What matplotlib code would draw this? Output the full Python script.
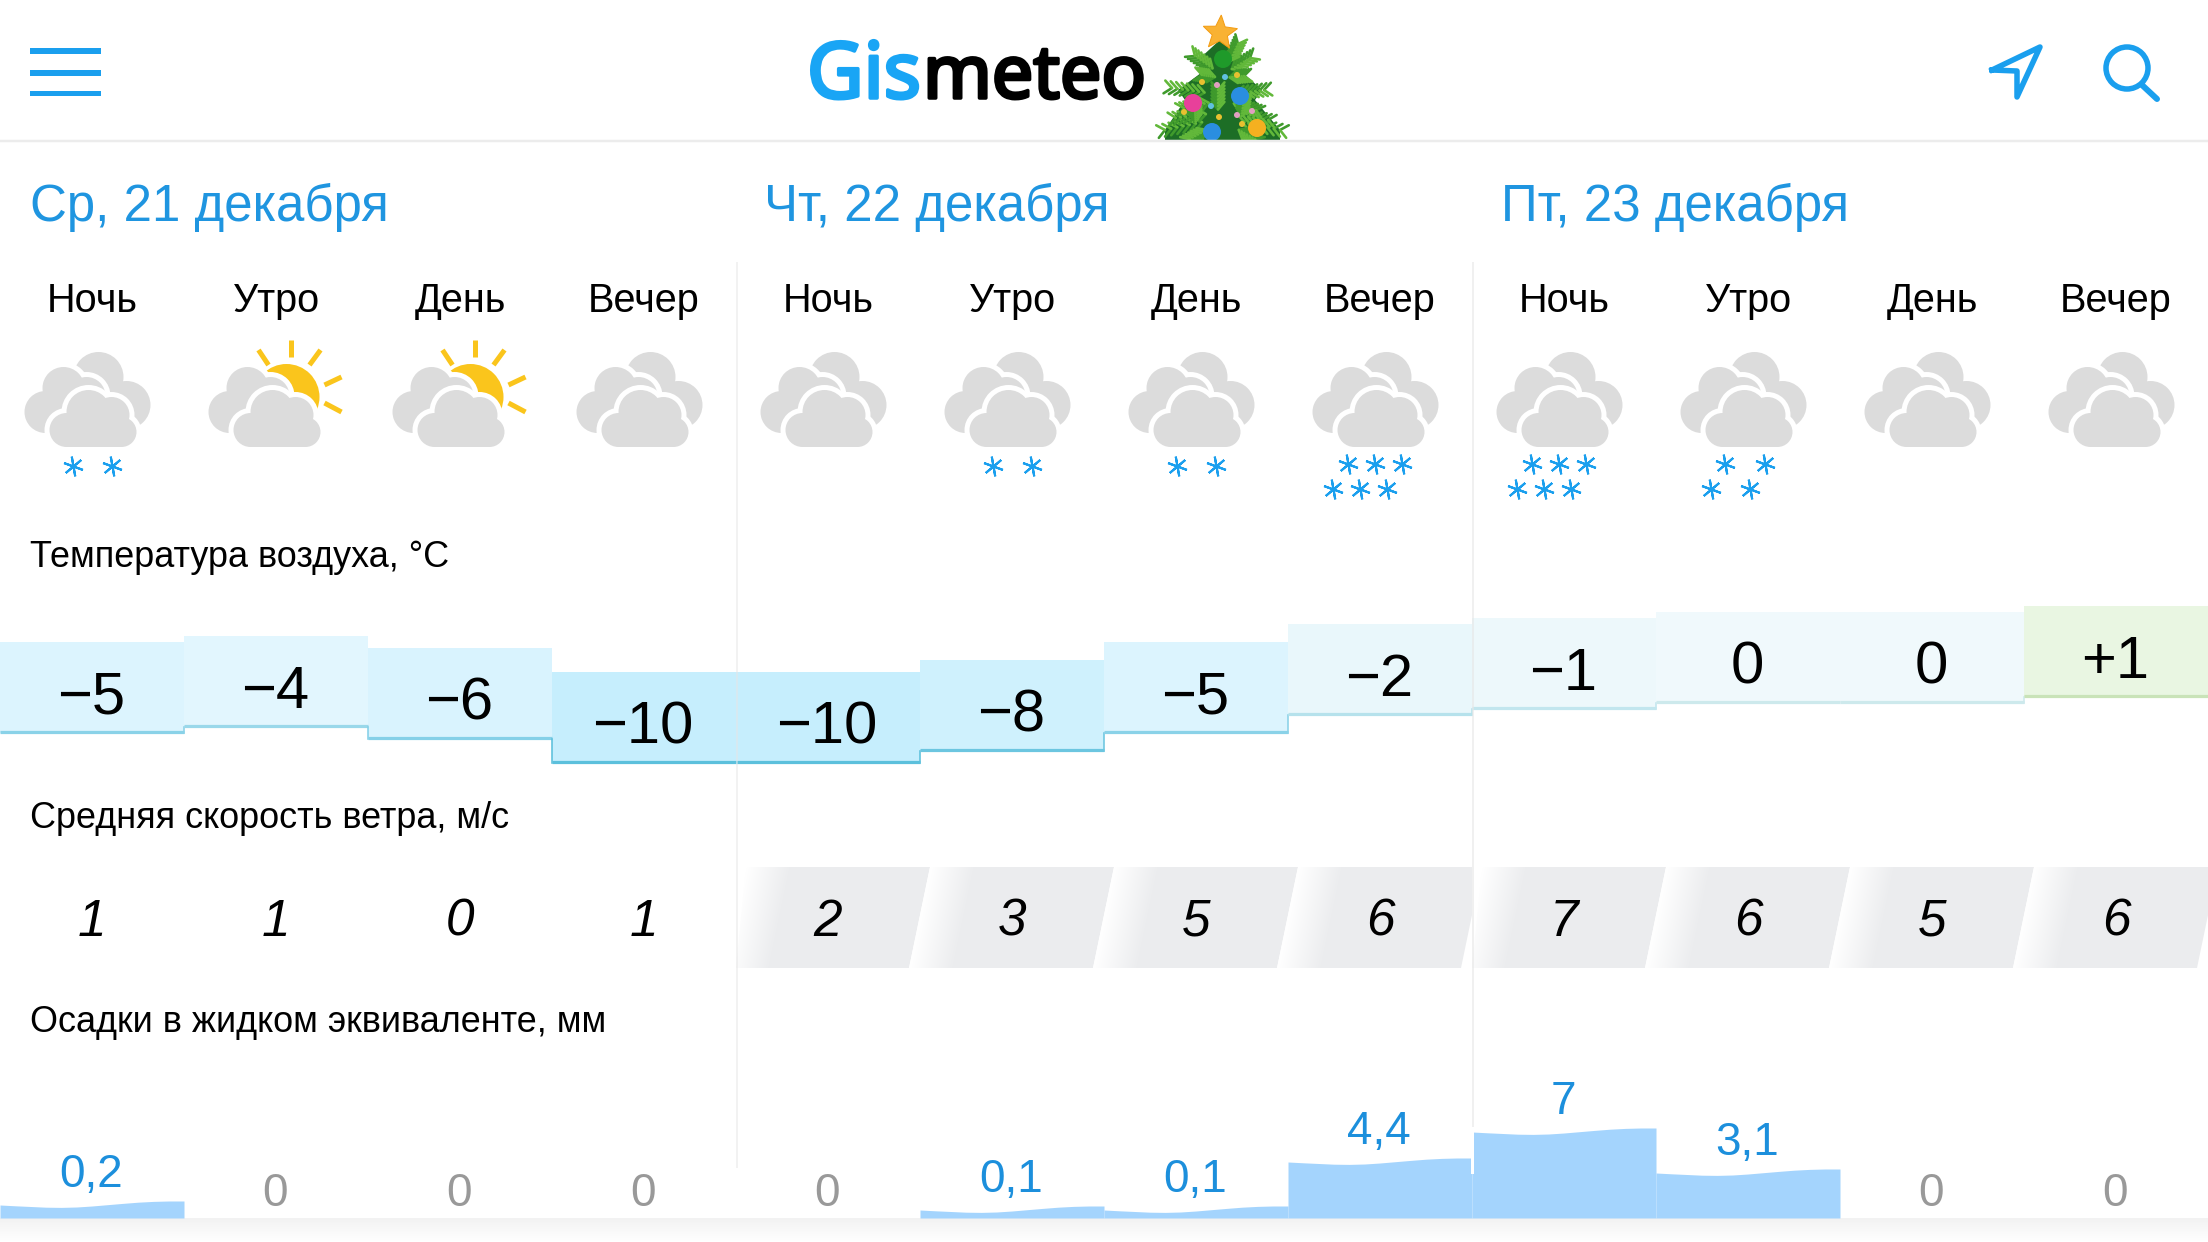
#!/usr/bin/env python3

"""
plot.py - Gismeteo three day forecast screen
"""

import numpy as np
import matplotlib
matplotlib.use('Agg')
import matplotlib.pyplot as plt
import matplotlib.patheffects as pe
from matplotlib.patches import Circle, Rectangle, Polygon

# Data
day_labels = ['Ср, 21 декабря', 'Чт, 22 декабря', 'Пт, 23 декабря']
periods = ['Ночь', 'Утро', 'День', 'Вечер'] * 3
temps = [-5, -4, -6, -10, -10, -8, -5, -2, -1, 0, 0, 1]
temp_labels = ['−5', '−4', '−6', '−10', '−10', '−8', '−5', '−2', '−1', '0', '0', '+1']
wind = [1, 1, 0, 1, 2, 3, 5, 6, 7, 6, 5, 6]
precip_labels = ['0,2', '0', '0', '0', '0', '0,1', '0,1', '4,4', '7', '3,1', '0', '0']
precip_heights = [13, 0, 0, 0, 0, 8, 8, 56, 86, 45, 0, 0]
sunny = [False, True, True, False, False, False, False, False, False, False, False, False]
snow_flakes = [2, 0, 0, 0, 0, 2, 2, 6, 6, 4, 0, 0]

row_titles = ['Температура воздуха, °C', 'Средняя скорость ветра, м/с',
              'Осадки в жидком эквиваленте, мм']

# Styles
BLUE = '#1a9fee'
DAY_BLUE = '#1f95e0'
CLOUD = '#dcdcdc'
SUN = '#fac51c'
PRECIP = '#a4d4fd'
COL_W = 184.0
TEMP_FILL = {-10: '#c6eefd', -8: '#cff1fd', -6: '#d9f3fe', -5: '#dcf4fe', -4: '#e2f6fe',
             -2: '#e9f7fb', -1: '#edf8fb', 0: '#f0f9fc', 1: '#e9f6e2'}
TEMP_LINE = {-10: '#5cc0dc', -8: '#6cc6e0', -6: '#85d0e8', -5: '#8ad2e8', -4: '#9ad8ea',
             -2: '#b6e2ec', -1: '#c2e6ee', 0: '#cde9ec', 1: '#c9e3b8'}
WAVE = [0, -0.8, -1.5, -2.2, -2.4, -2, -1, 0.3, 1.6, 2.8, 3.6, 4, 4]

plt.rcParams['font.family'] = ['Liberation Sans', 'DejaVu Sans']


def px(v):
    # pixels to points at dpi 100
    return v * 0.72


fig = plt.figure(figsize=(22.08, 12.42), dpi=100)
ax = fig.add_axes([0, 0, 1, 1])
ax.set_xlim(0, 2208)
ax.set_ylim(1242, 0)
ax.axis('off')


def blob(x0, parts, color=CLOUD, z=3):
    # union of circles and rects with a white halo behind
    for halo, col in ((5, 'white'), (0, color)):
        for p in parts:
            if len(p) == 3:
                ax.add_patch(Circle((x0 + p[0], p[1]), p[2] + halo, fc=col, ec='none', zorder=z))
            else:
                ax.add_patch(Rectangle((x0 + p[0] - halo, p[1] - halo), p[2] + 2 * halo,
                                       p[3] + 2 * halo, fc=col, ec='none', zorder=z))


def draw_cloud(x0, with_sun):
    if with_sun:
        ax.add_patch(Circle((x0 + 101, 397), 33, fc=SUN, ec='none', zorder=2))
        rays = [((105, 340), (105, 357)), ((73, 350), (83, 365)), ((135, 350), (124, 365)),
                ((156, 377), (139, 385)), ((156, 412), (139, 403))]
        for a, b in rays:
            ax.plot([x0 + a[0], x0 + b[0]], [a[1], b[1]], color=SUN, lw=px(5),
                    solid_capstyle='butt', zorder=2)
    else:
        blob(x0, [(97, 377, 25), (125, 405, 24)], z=3)
    blob(x0, [(62, 388, 21), (44, 412, 21), (85, 396, 19), (44, 400, 60, 33)], z=4)
    blob(x0, [(87, 412, 22), (110, 415, 18), (65, 430, 17), (120, 432, 15), (65, 425, 55, 22)], z=5)


def draw_snow(cx, n):
    layouts = {
        2: [(-19, 466), (20, 466)],
        4: [(-23, 464), (17, 464), (-37, 489), (2, 489)],
        6: [(-32, 464), (-5, 464), (22, 464), (-47, 489), (-20, 489), (7, 489)],
    }
    for dx, y in layouts.get(n, []):
        ax.plot(cx + dx, y, marker=(6, 2, 10), ms=px(20), mew=px(2.1), mec=BLUE, ls='none', zorder=3)


def draw_tree():
    # stylised fir under the logo
    ax.add_patch(Polygon([(1222, 38), (1245, 60), (1240, 70), (1262, 90), (1255, 100),
                          (1280, 130), (1280, 145), (1165, 145), (1165, 130), (1185, 100),
                          (1178, 90), (1205, 70), (1198, 60)],
                         fc='#1d6e26', ec='none', zorder=2))
    branches = [(1222, 118, 1165, 130), (1222, 112, 1176, 118), (1215, 125, 1190, 139),
                (1222, 118, 1280, 130), (1222, 112, 1268, 120), (1230, 125, 1255, 139),
                (1222, 95, 1172, 88), (1222, 100, 1184, 108), (1222, 95, 1264, 90),
                (1222, 100, 1256, 110), (1222, 75, 1195, 56), (1222, 78, 1202, 75),
                (1222, 75, 1250, 58), (1222, 78, 1244, 76), (1226, 70, 1238, 44),
                (1218, 120, 1218, 90), (1240, 125, 1244, 100), (1196, 128, 1195, 110)]
    for x1, y1, x2, y2 in branches:
        ang = np.arctan2(y2 - y1, x2 - x1)
        for f in np.linspace(0.35, 1, 7):
            bx, by = x1 + (x2 - x1) * f, y1 + (y2 - y1) * f
            for side, col in ((-1, '#3f9a2c'), (1, '#62b83a')):
                nx = bx + 10 * np.cos(ang + side * 0.7)
                ny = by + 10 * np.sin(ang + side * 0.7)
                ax.plot([bx, nx], [by, ny], color=col, lw=px(2.6), solid_capstyle='round', zorder=2)
    ax.add_patch(Rectangle((1140, 140), 170, 10, fc='white', ec='none', zorder=2.5))
    balls = [(1223, 59, 9, '#1f9a2a'), (1193, 103, 9, '#e8409a'), (1240, 96, 9, '#2a8ee0'),
             (1212, 132, 9, '#2a8ee0'), (1257, 128, 9, '#f5b020'), (1202, 82, 3, '#e8c030'),
             (1217, 85, 3, '#e0a0c0'), (1225, 77, 3, '#60c0e0'), (1237, 75, 3, '#e8c030'),
             (1211, 106, 3, '#60c0e0'), (1184, 112, 3, '#e8c030'), (1237, 115, 3, '#e0a0c0'),
             (1242, 124, 3, '#e8c030'), (1219, 117, 3, '#e8c030'), (1252, 111, 3, '#e0a0c0')]
    for x, y, r, c in balls:
        ax.add_patch(Circle((x, y), r, fc=c, ec='none', zorder=3))
    angs = np.deg2rad(-90 + 36 * np.arange(10) + 4)
    rad = np.where(np.arange(10) % 2 == 0, 18, 8)
    ax.add_patch(Polygon(np.c_[1220 + rad * np.cos(angs), 33 + rad * np.sin(angs)],
                         fc='#f9b233', ec='#f39c12', lw=px(1), zorder=3))


# header
for y in (50.5, 72.5, 93):
    ax.add_patch(Rectangle((30, y - 2.5), 71, 5.5, fc=BLUE, ec='none', zorder=3))
ax.text(807, 98, 'Gis', color='#19a5f5', fontsize=56, family='Noto Sans', ha='left', va='baseline',
        path_effects=[pe.withStroke(linewidth=px(3.5), foreground='#19a5f5')])
ax.text(923, 98, 'meteo', color='black', fontsize=53, family='Noto Sans', ha='left', va='baseline',
        path_effects=[pe.withStroke(linewidth=px(3.5), foreground='black')])
draw_tree()
ax.plot([1992, 2040, 2017, 2017, 1992], [70, 47, 97, 71, 70], color=BLUE, lw=px(5.5),
        solid_joinstyle='round', zorder=3)
ax.add_patch(Circle((2127, 68), 21, fc='none', ec=BLUE, lw=px(5.5), zorder=3))
ax.plot([2142, 2157], [85, 99], color=BLUE, lw=px(6), solid_capstyle='round', zorder=3)
ax.plot([0, 2208], [141, 141], color='#ececec', lw=px(2.5), zorder=4)

# day titles
for x, label in zip((30, 764, 1501), day_labels):
    ax.text(x, 221, label, color=DAY_BLUE, fontsize=36.7, ha='left', va='baseline')

# row titles
for y, label in zip((567, 828, 1032), row_titles):
    ax.text(30, y, label, color='black', fontsize=25.9, ha='left', va='baseline')

# day separators
ax.plot([737, 737], [263, 1167], color='#e6e6e6', lw=px(2), alpha=0.5, zorder=6)
ax.plot([1473, 1473], [263, 1128], color='#e6e6e6', lw=px(2), alpha=0.6, zorder=6)
ax.plot([1472, 1472], [1128, 1172], color='white', lw=px(3), zorder=6)

cols = np.arange(12)
lefts = cols * COL_W
centers = lefts + COL_W / 2

# period names, weather icons
for i, c in enumerate(centers):
    ax.text(c, 312, periods[i], color='black', fontsize=28.5, ha='center', va='baseline')
    draw_cloud(lefts[i] + 1.5, sunny[i])
    draw_snow(c, snow_flakes[i])

# temperature steps
band_bottoms = [703 - 6 * t for t in temps]
for i, t in enumerate(temps):
    ax.bar(lefts[i], -91, bottom=band_bottoms[i], width=COL_W, align='edge',
           color=TEMP_FILL[t], lw=0, zorder=2)
    ax.plot([lefts[i], lefts[i] + COL_W], [band_bottoms[i] - 1, band_bottoms[i] - 1],
            color=TEMP_LINE[t], lw=px(3.2), solid_capstyle='butt', zorder=3)
    if i > 0 and band_bottoms[i] > band_bottoms[i - 1]:
        ax.plot([lefts[i], lefts[i]], [band_bottoms[i - 1], band_bottoms[i]], color=TEMP_LINE[t],
                lw=px(1.6), zorder=3)
    if i < 11 and band_bottoms[i] > band_bottoms[i + 1]:
        ax.plot([lefts[i] + COL_W, lefts[i] + COL_W], [band_bottoms[i + 1], band_bottoms[i]],
                color=TEMP_LINE[t], lw=px(1.6), zorder=3)
    ax.text(centers[i] - 1, band_bottoms[i] - 19.5, temp_labels[i], color='black', fontsize=43,
            ha='center', va='baseline', zorder=5)

# wind cells, grey from day two on
top, bottom = 867, 968
grey = np.array([235, 236, 238]) / 255
yy = np.linspace(0, 1, 101)
xx = np.arange(0, 240)
for i, w in enumerate(wind):
    if i >= 4:
        x0 = lefts[i]
        day_left = 736 if i < 8 else 1472
        day_right = 1472 if i < 8 else 2400
        tl, bl = x0 + 10, max(x0 - 11, day_left)
        tr, br = x0 + COL_W + 10, x0 + COL_W - 11
        pts = [(tl, top), (min(tr, day_right), top)]
        if tr > day_right:
            pts.append((day_right, top + (tr - day_right) / 21 * (bottom - top)))
        pts += [(br, bottom), (bl, bottom)]
        left_edge = (x0 + 10) - 21 * yy
        t = np.clip((x0 - 20 + xx[None, :] - left_edge[:, None]) / 45, 0, 1)
        img = 1 + (grey[None, None, :] - 1) * t[..., None]
        im = ax.imshow(img, extent=(x0 - 20, x0 + 220, bottom, top), aspect='auto', zorder=2)
        poly = Polygon(pts, closed=True, transform=ax.transData, fc='none', ec='none')
        ax.add_patch(poly)
        im.set_clip_path(poly)
    ax.text(centers[i], 936, str(w), color='black', fontsize=37, style='italic',
            ha='center', va='baseline', zorder=5)
ax.set_xlim(0, 2208)
ax.set_ylim(1242, 0)

# precipitation
base = 1218
for i, h in enumerate(precip_heights):
    if h > 0:
        xs = np.linspace(lefts[i], lefts[i] + COL_W, len(WAVE))
        ax.fill_between(xs, base, base - h - np.array(WAVE), color=PRECIP, lw=0, zorder=2)
        ax.text(centers[i] - 1, base - h - 18, precip_labels[i], color='#1c8fdc', fontsize=33,
                ha='center', va='baseline', zorder=5)
    else:
        ax.text(centers[i] - 1, base - 12, precip_labels[i], color='#999999', fontsize=33,
                ha='center', va='baseline', zorder=5)

# bottom shadow
shadow = np.linspace(0.95, 1, 24)[:, None, None] * np.ones((24, 1, 3))
ax.imshow(shadow, extent=(0, 2208, 1242, 1218), aspect='auto', zorder=1)
ax.set_xlim(0, 2208)
ax.set_ylim(1242, 0)

fig.savefig('out.png', dpi=100, facecolor='white')
